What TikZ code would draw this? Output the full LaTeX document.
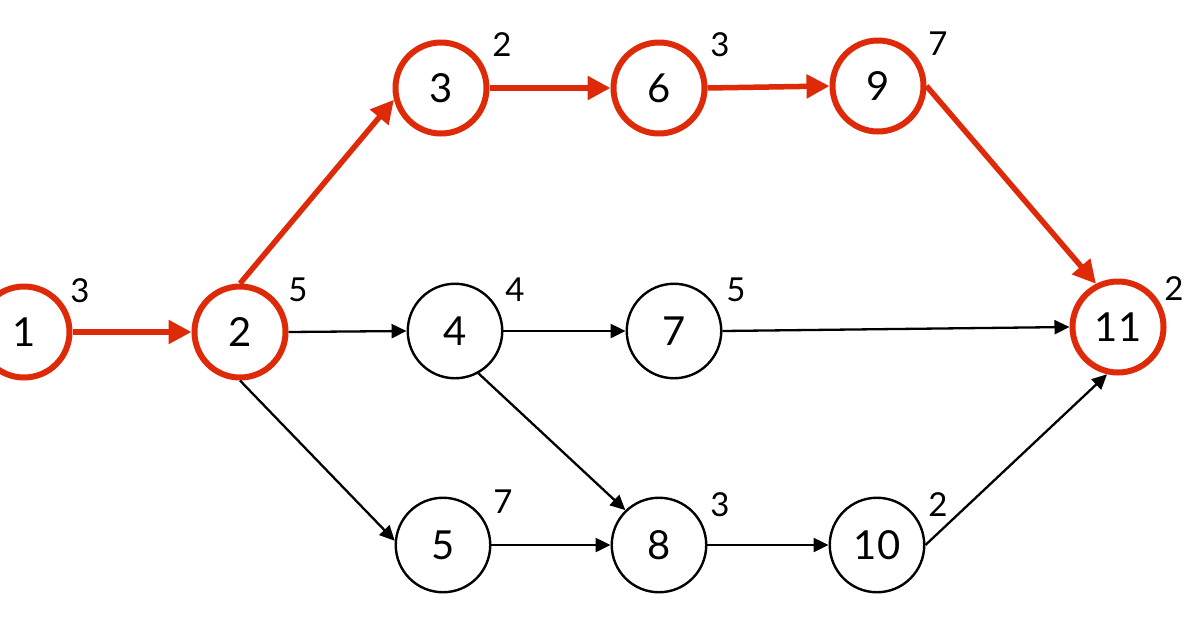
\documentclass[tikz,border=0pt]{standalone}
\usepackage{fontspec}
\setmainfont{Lato}
\usetikzlibrary{arrows.meta}
\definecolor{crit}{RGB}{222,42,8}
\begin{document}
\begin{tikzpicture}[x=1pt,y=-1pt,
  task/.style={circle, draw=black, line width=2.4pt, minimum size=94.5pt, inner sep=0pt,
    font=\fontsize{40}{42}\selectfont},
  crittask/.style={task, draw=crit, line width=6pt, minimum size=91pt},
  dur/.style={font=\fontsize{33}{35}\selectfont, inner sep=0pt},
  edge/.style={draw=black, line width=2.3pt, -{Triangle[length=15pt,width=14pt]}},
  critedge/.style={draw=crit, line width=5.5pt, -{Triangle[length=23pt,width=23pt]}}
]
\useasboundingbox (0,0) rectangle (1200,630);
\clip (0,0) rectangle (1200,630);
\node[crittask] (n1) at (24,332) {1};
\node[crittask] (n2) at (240,332) {2};
\node[crittask] (n3) at (441,88) {3};
\node[crittask] (n6) at (659,88) {6};
\node[crittask] (n9) at (878,86) {9};
\node[crittask] (n11) at (1118,327) {11};
\node[task] (n4) at (455,331) {4};
\node[task] (n7) at (674,331) {7};
\node[task] (n5) at (443,545) {5};
\node[task] (n8) at (659,545) {8};
\node[task] (n10) at (877,545) {10};

\node[dur] (d1) at ([shift={(56,-41)}]n1) {3};
\node[dur] (d2) at ([shift={(58,-42)}]n2) {5};
\node[dur] (d3) at ([shift={(61,-43)}]n3) {2};
\node[dur] (d6) at ([shift={(61,-43)}]n6) {3};
\node[dur] (d9) at ([shift={(60,-42)}]n9) {7};
\node[dur] (d11) at ([shift={(56,-38)}]n11) {2};
\node[dur] (d4) at ([shift={(60,-41)}]n4) {4};
\node[dur] (d7) at ([shift={(62,-41)}]n7) {5};
\node[dur] (d5) at ([shift={(60,-43)}]n5) {7};
\node[dur] (d8) at ([shift={(61,-40)}]n8) {3};
\node[dur] (d10) at ([shift={(61,-40)}]n10) {2};

\draw[critedge] (n1.east) -- (n2.west);
\draw[critedge] (n2.north) -- (n3.194);
\draw[critedge] (n3.east) -- (n6.west);
\draw[critedge] (n6.east) -- (n9.west);
\draw[critedge] (n9.east) -- (n11.117);

\draw[edge] (n2.east) -- (n4.west);
\draw[edge] (n2.south) -- (n5.175);
\draw[edge] (n4.east) -- (n7.west);
\draw[edge] (n4.299) -- (n8.134);
\draw[edge] (n5.east) -- (n8.west);
\draw[edge] (n7.east) -- (n11.west);
\draw[edge] (n8.east) -- (n10.west);
\draw[edge] (n10.east) -- (n11.257);
\end{tikzpicture}
\end{document}
